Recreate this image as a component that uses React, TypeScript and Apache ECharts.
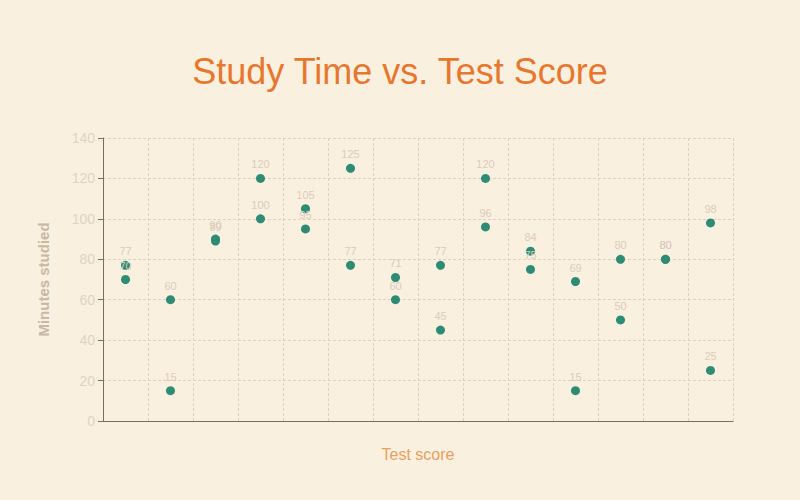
import React, { useEffect, useRef } from "react";
import * as echarts from "echarts";

const categories = ["1", "2", "3", "4", "5", "6", "7", "8", "9", "10", "11", "12", "13", "14"];
const minutesFirst = [77, 60, 90, 120, 105, 125, 71, 77, 120, 84, 69, 80, 80, 98];
const minutesSecond = [70, 15, 89, 100, 95, 77, 60, 45, 96, 75, 15, 50, 80, 25];
const yTicks = { min: 0, max: 140, interval: 20 };

const App: React.FC = () => {
  const chartRef = useRef<HTMLDivElement>(null);

  useEffect(() => {
    document.body.style.margin = "0";
    if (!chartRef.current) return;
    const chart = echarts.init(chartRef.current, undefined, { renderer: "svg" });

    const pointStyle = {
      type: "scatter",
      symbolSize: 9,
      itemStyle: { color: "#2E8B74", opacity: 1 },
      label: {
        show: true,
        position: "top",
        distance: 4,
        color: "#DCCBBE",
        fontSize: 11,
      },
    };

    const gridLine = { show: true, lineStyle: { color: "#DDD2C1", type: [3, 2] } };

    const option = {
      animation: false,
      backgroundColor: "#FAF0DF",
      textStyle: { fontFamily: "'Liberation Sans', Arial, sans-serif" },
      title: {
        text: "Study Time vs. Test Score",
        left: "center",
        top: 48,
        textStyle: { color: "#E8772E", fontSize: 36, fontWeight: "normal" },
      },
      grid: { left: 103, right: 67, top: 138, bottom: 79 },
      xAxis: {
        type: "category",
        data: categories,
        name: "Test score",
        nameLocation: "middle",
        nameGap: 25,
        nameTextStyle: { color: "#E8A060", fontSize: 16 },
        axisLine: { lineStyle: { color: "#7C6E60" } },
        axisTick: { show: false },
        axisLabel: { show: false },
        splitLine: gridLine,
      },
      yAxis: {
        type: "value",
        min: yTicks.min,
        max: yTicks.max,
        interval: yTicks.interval,
        name: "Minutes studied",
        nameLocation: "middle",
        nameGap: 52,
        nameTextStyle: { color: "#C8B8A6", fontSize: 15, fontWeight: "bold" },
        axisLine: { show: true, lineStyle: { color: "#7C6E60" } },
        axisTick: { show: true, lineStyle: { color: "#7C6E60" } },
        axisLabel: { color: "#E0D3C6", fontSize: 14 },
        splitLine: gridLine,
      },
      series: [
        { ...pointStyle, data: minutesFirst.map((v, i) => [i, v]) },
        { ...pointStyle, data: minutesSecond.map((v, i) => [i, v]) },
      ],
    };

    chart.setOption(option);
    return () => chart.dispose();
  }, []);

  return <div ref={chartRef} style={{ width: "800px", height: "500px" }}></div>;
};

export default App;
